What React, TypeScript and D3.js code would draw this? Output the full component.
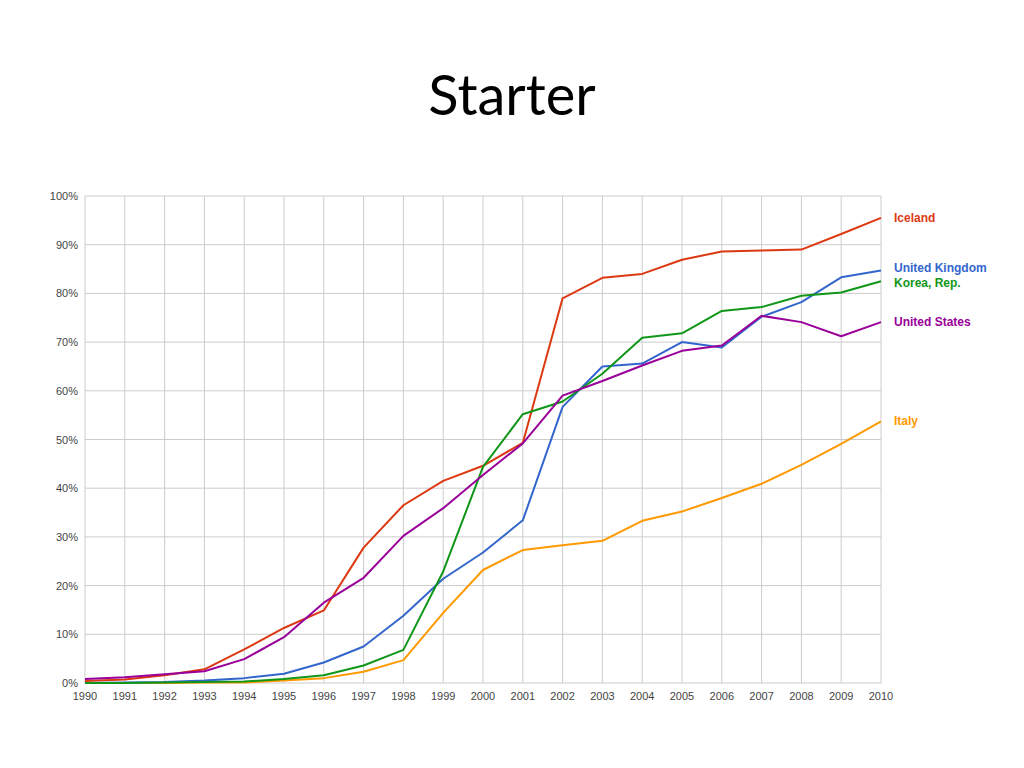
import * as d3 from 'd3';

const years = d3.range(1990, 2011);
const yTicks = [0, 10, 20, 30, 40, 50, 60, 70, 80, 90, 100];

const iceland = [0.4, 0.7, 1.6, 2.8, 6.9, 11.3, 14.9, 27.8, 36.5, 41.5, 44.6, 49.3, 79.0, 83.2, 84.0, 86.9, 88.6, 88.8, 89.0, 92.2, 95.5];
const unitedKingdom = [0.0, 0.1, 0.2, 0.5, 1.0, 1.9, 4.2, 7.5, 13.8, 21.4, 26.8, 33.4, 56.7, 65.0, 65.6, 70.0, 68.9, 75.2, 78.2, 83.3, 84.7];
const korea = [0.0, 0.0, 0.1, 0.2, 0.3, 0.8, 1.6, 3.6, 6.8, 22.9, 44.4, 55.2, 57.8, 63.5, 70.9, 71.8, 76.4, 77.2, 79.5, 80.2, 82.5];
const unitedStates = [0.8, 1.2, 1.8, 2.4, 4.9, 9.4, 16.5, 21.6, 30.2, 35.9, 42.7, 49.2, 59.0, 62.0, 65.2, 68.2, 69.3, 75.4, 74.1, 71.2, 74.1];
const italy = [0.0, 0.0, 0.0, 0.1, 0.1, 0.5, 1.0, 2.3, 4.7, 14.4, 23.2, 27.3, 28.3, 29.2, 33.3, 35.2, 38.0, 40.9, 44.8, 49.1, 53.7];

const series = [
  { name: 'Iceland', color: '#dc3912', values: iceland },
  { name: 'Italy', color: '#ff9900', values: italy },
  { name: 'United Kingdom', color: '#3366cc', values: unitedKingdom },
  { name: 'Korea, Rep.', color: '#109618', values: korea },
  { name: 'United States', color: '#990099', values: unitedStates },
];

const W = 1024;
const H = 768;
const plot = { left: 85, right: 881, top: 196, bottom: 683 };

export default function App() {
  const x = d3.scaleLinear().domain([1990, 2010]).range([plot.left, plot.right]);
  const y = d3.scaleLinear().domain([0, 100]).range([plot.bottom, plot.top]);

  const line = d3
    .line<number>()
    .x((_, i) => x(years[i]))
    .y((d) => y(d));

  // end labels, pushed apart when they collide
  const labels = series
    .map((s) => ({ ...s, ly: y(s.values[s.values.length - 1]) }))
    .sort((a, b) => a.ly - b.ly);
  for (let i = 1; i < labels.length; i++) {
    if (labels[i].ly - labels[i - 1].ly < 14) {
      const mid = (labels[i].ly + labels[i - 1].ly) / 2;
      labels[i - 1].ly = mid - 7.5;
      labels[i].ly = mid + 7.5;
    }
  }

  const axisFont = 'Arial, "Liberation Sans", sans-serif';

  return (
    <svg width={W} height={H} style={{ display: 'block', margin: '-8px', background: '#fff' }}>
      <text x={512} y={115} textAnchor="middle" fontFamily="Lato, 'Open Sans', sans-serif" fontSize={56} fill="#000">
        Starter
      </text>

      {yTicks.map((t) => (
        <g key={'y' + t}>
          <line x1={plot.left} x2={plot.right} y1={y(t)} y2={y(t)} stroke="#cccccc" strokeWidth={1} />
          <text x={plot.left - 7} y={y(t) + 4} textAnchor="end" fontFamily={axisFont} fontSize={11} fill="#444">
            {t}%
          </text>
        </g>
      ))}
      {years.map((yr) => (
        <g key={'x' + yr}>
          <line x1={x(yr)} x2={x(yr)} y1={plot.top} y2={plot.bottom} stroke="#cccccc" strokeWidth={1} />
          <text x={x(yr)} y={plot.bottom + 17} textAnchor="middle" fontFamily={axisFont} fontSize={11} fill="#444">
            {yr}
          </text>
        </g>
      ))}

      {series.map((s) => (
        <path key={s.name} d={line(s.values) ?? ''} fill="none" stroke={s.color} strokeWidth={2} strokeLinejoin="round" />
      ))}

      {labels.map((l) => (
        <text key={'l' + l.name} x={plot.right + 13} y={l.ly + 4} fontFamily={axisFont} fontSize={12} fontWeight="bold" fill={l.color}>
          {l.name}
        </text>
      ))}
    </svg>
  );
}
